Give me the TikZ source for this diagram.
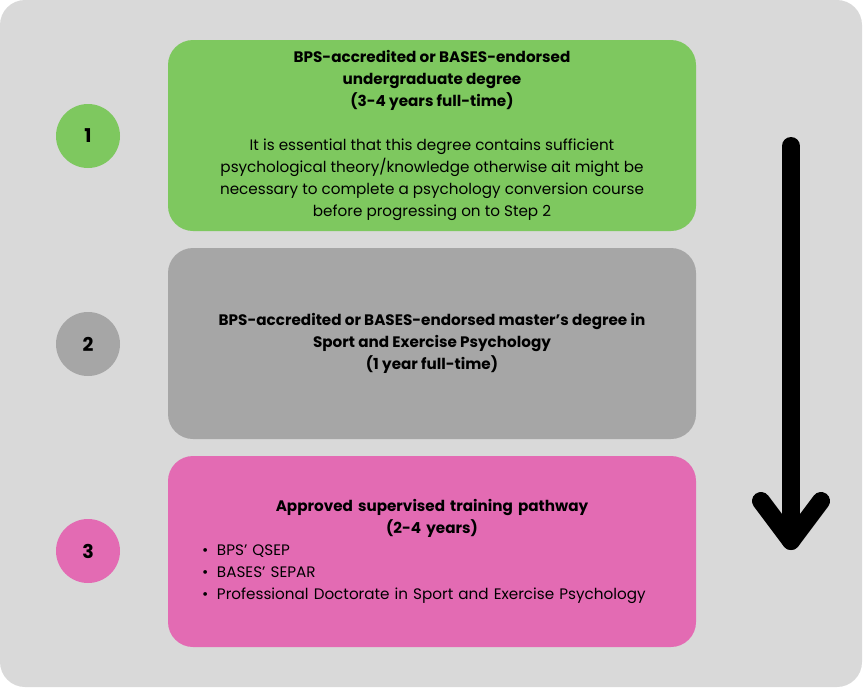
\documentclass[tikz,border=0pt]{standalone}
\usepackage{fontspec}
\setmainfont{Poppins}
\definecolor{backgrey}{HTML}{D9D9D9}
\definecolor{stepgreen}{HTML}{7EC85F}
\definecolor{stepgrey}{HTML}{A6A6A6}
\definecolor{steppink}{HTML}{E36BB3}
\newcommand{\bulletitem}[1]{\leavevmode\hbox to 17pt{\hskip2pt\textbullet\hfil}#1}
\begin{document}
\begin{tikzpicture}
	[x=1pt,y=-1pt,
	stepbox/.style={rounded corners=25pt,minimum width=528pt,minimum height=191pt,
		inner sep=0pt,align=center,font=\fontsize{15.2pt}{22pt}\selectfont},
	stepnum/.style={circle,minimum size=64pt,inner sep=0pt,font=\fontsize{19pt}{22pt}\selectfont\bfseries},
	flow/.style={line width=18pt,line cap=round,line join=round}]
	\useasboundingbox (0,0) rectangle (864,688);
	\fill[backgrey,rounded corners=25pt] (0,0) rectangle (862,687);
	% the three steps
	\node[stepbox,fill=stepgreen,name=step1] at (432,135.5)
	{\textbf{BPS-accredited or BASES-endorsed}\\
		\textbf{undergraduate degree}\\
		\textbf{(3-4 years full-time)}\\[22pt]
		It is essential that this degree contains sufficient\\
		psychological theory/knowledge otherwise ait might be\\
		necessary to complete a psychology conversion course\\
		before progressing on to Step 2};
	\node[stepbox,fill=stepgrey,name=step2] at (432,343.5)
	{\textbf{BPS-accredited or BASES-endorsed master’s degree in}\\
		\textbf{Sport and Exercise Psychology}\\
		\textbf{(1 year full-time)}};
	\node[stepbox,fill=steppink,name=step3,text width=464pt,align=left] at (432,551.5)
	{{\centering\bfseries Approved supervised training pathway\\(2-4 years)\par}
		\bulletitem{BPS’ QSEP}\\
		\bulletitem{BASES’ SEPAR}\\
		\bulletitem{Professional Doctorate in Sport and Exercise Psychology}};
	% numbers
	\node[stepnum,fill=stepgreen,name=num1] at (88,136) {1};
	\node[stepnum,fill=stepgrey,name=num2] at (88,344) {2};
	\node[stepnum,fill=steppink,name=num3] at (88,551) {3};
	% big arrow
	\coordinate (arrtop) at (791,146);
	\coordinate (arrtip) at (791,541);
	\draw[flow] (arrtop) -- (arrtip);
	\draw[flow] ([shift={(-30,-40)}]arrtip) -- (arrtip) -- ([shift={(30,-40)}]arrtip);
\end{tikzpicture}
\end{document}
